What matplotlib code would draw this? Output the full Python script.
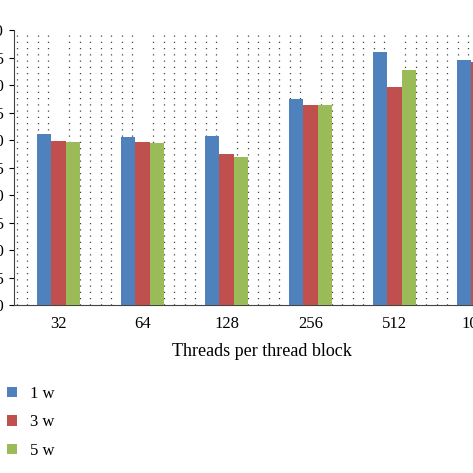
import numpy as np
import matplotlib
matplotlib.use("Agg")
import matplotlib.pyplot as plt

plt.rcParams['font.family'] = ['Liberation Serif', 'DejaVu Serif']

threads = ['32', '64', '128', '256', '512', '1024']
w1 = [3.11, 3.05, 3.07, 3.75, 4.60, 4.45]
w3 = [2.98, 2.96, 2.75, 3.64, 3.96, 4.42]
w5 = [2.96, 2.95, 2.69, 3.64, 4.27, 4.40]
series = [('1 w', w1, '#4F81BD'), ('3 w', w3, '#C0504D'), ('5 w', w5, '#9BBB59')]

fig = plt.figure(figsize=(4.73, 4.73), dpi=100)
# axes deliberately runs past the figure edges, as in the cropped reference
ax = fig.add_axes([14/473, 1 - 305/473, 496/473, 275/473])

x = np.arange(len(threads))
bw = 0.17
for i, (name, vals, col) in enumerate(series):
    ax.bar(x + (i - 1) * bw, vals, bw, color=col, label=name, zorder=3)

ax.set_xlim(-0.53, 5.37)
ax.set_ylim(0, 5)
ax.set_yticks(np.arange(0, 5.01, 0.5))
ax.set_yticklabels(['%.1f' % v for v in np.arange(0, 5.01, 0.5)], fontsize=12)
ax.set_xticks(x)
ax.set_xticklabels(threads, fontsize=12)
ax.tick_params(axis='x', length=0, pad=8)
ax.set_xticks(np.arange(-0.5, 5.45, 0.125), minor=True)
ax.tick_params(axis='x', which='minor', length=0)
ax.grid(axis='x', which='minor', linestyle=(0, (1, 4)), color='#444444', linewidth=0.9, zorder=0)
for s in ['top', 'right']:
    ax.spines[s].set_visible(False)
ax.spines['bottom'].set_color('#444444')
ax.spines['left'].set_color('#444444')
ax.set_xlabel('Threads per thread block', fontsize=13, labelpad=8)

ax.legend(loc='upper left', bbox_to_anchor=(-0.045, -0.24), frameon=False,
          fontsize=12, handlelength=0.6, handleheight=0.6, labelspacing=0.75)

fig.savefig('out.png', dpi=100)
